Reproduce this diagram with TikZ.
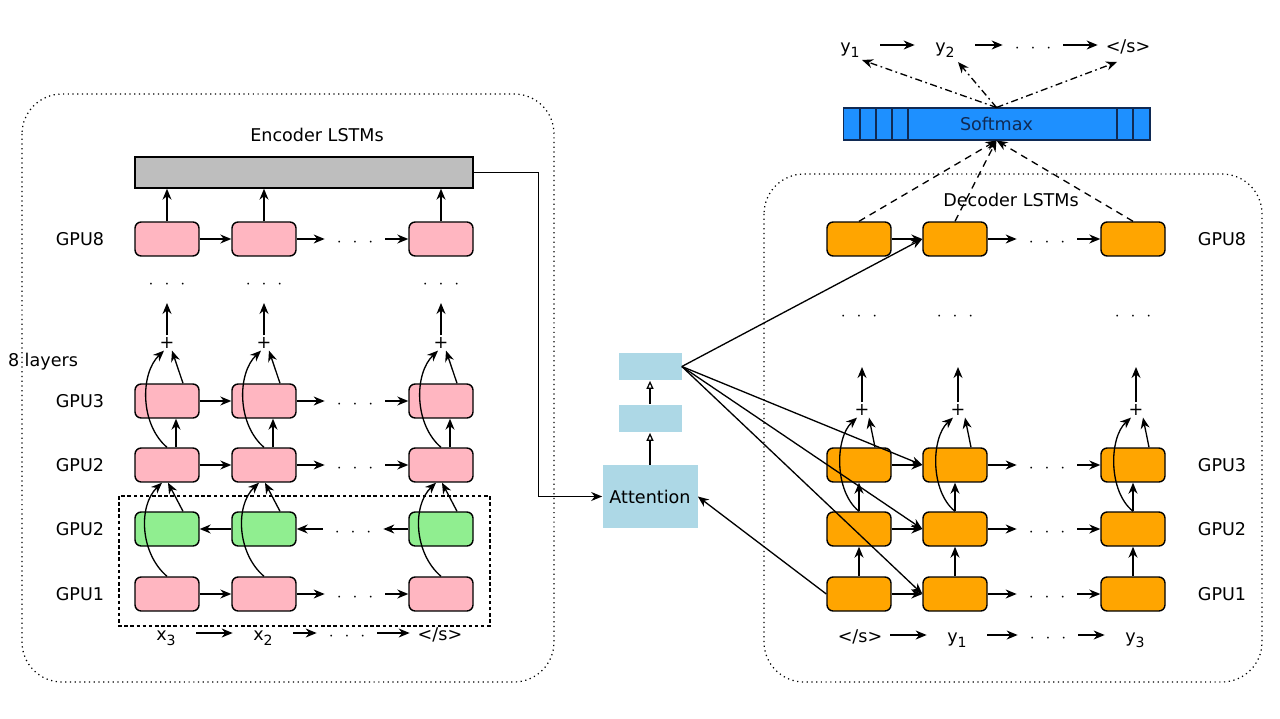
\documentclass[tikz,border=0pt]{standalone}
\usepackage{fontspec}
\setmainfont{DejaVu Sans}
\usetikzlibrary{arrows.meta, positioning, calc}

\definecolor{cellpink}{RGB}{255,182,193}
\definecolor{cellgreen}{RGB}{144,238,144}
\definecolor{cellorange}{RGB}{255,165,0}
\definecolor{attblue}{RGB}{173,216,230}
\definecolor{smblue}{RGB}{30,144,255}
\definecolor{smtext}{RGB}{16,42,84}
\definecolor{bargray}{RGB}{190,190,190}
\newcommand{\lsub}[1]{\raisebox{-0.6ex}{\footnotesize #1}}
\newcommand{\spdots}{$\cdot\hspace{4pt}\cdot\hspace{4pt}\cdot$}

\begin{document}
\begin{tikzpicture}[
    x=0.02cm, y=-0.02cm,
    cell/.style={rectangle, draw, line width=0.8pt, rounded corners=3.5pt, minimum width=1.28cm, minimum height=0.68cm, inner sep=0pt},
    enc/.style={cell, fill=cellpink},
    bwd/.style={cell, fill=cellgreen},
    dec/.style={cell, fill=cellorange},
    attbox/.style={rectangle, fill=attblue, inner sep=0pt},
    token/.style={minimum width=1.2cm, inner sep=0pt, text height=8pt, text depth=0pt},
    sumnode/.style={inner sep=1pt},
    link/.style={-{Stealth[length=2.2mm, width=1.8mm]}, line width=0.75pt},
    dashdot/.style={dash pattern=on 4pt off 2pt on 1pt off 2pt},
    boxframe/.style={dotted, line width=0.7pt, rounded corners=0.8cm}
]
\useasboundingbox (0,0) rectangle (1280,719);

% Frames
\draw[boxframe] (22,94) rectangle (554,682);
\draw[boxframe] (764,174) rectangle (1262,682);
\draw[dash pattern=on 2pt off 1.5pt, line width=0.6pt] (119,496) rectangle (490,626);

% Encoder nodes
\node (enctitle) at (317,135) {Encoder LSTMs};
\node[rectangle, draw, line width=0.8pt, fill=bargray, minimum width=6.76cm, minimum height=0.62cm] (bar) at (304,172.5) {};
\foreach \c/\x in {1/167, 2/264, 3/441} {
    \node[enc] (enc8-\c) at (\x,239) {};
    \node (ev-\c) at (\x,285) {\spdots};
    \coordinate (eu-\c) at (\x,303);
    \node[sumnode] (ep-\c) at (\x,343) {+};
    \node[enc] (enc3-\c) at (\x,401) {};
    \node[enc] (enc2-\c) at (\x,465) {};
    \node[bwd] (bi-\c) at (\x,529) {};
    \node[enc] (enc1-\c) at (\x,594) {};
}
\foreach \r/\y in {8/239, 3/401, 2/465, 1/594}
    \node[token] (ed\r) at (355,\y) {\spdots};
\node[token] (edb) at (353,529) {\spdots};

\node (eg8) at (80,239) {GPU8};
\node (eg3) at (80,401) {GPU3};
\node (eg2) at (80,465) {GPU2};
\node (egb) at (80,529) {GPU2};
\node (eg1) at (80,594) {GPU1};
\node (layers) at (43,362) {8 layers};

\node[token] (ex1) at (166,633) {x\lsub{3}};
\node[token] (ex2) at (263,633) {x\lsub{2}};
\node[token] (exd) at (347,633) {\spdots};
\node[token] (ex3) at (440,633) {</s>};

% Encoder edges
\foreach \r in {8, 3, 2, 1} {
    \draw[link] (enc\r-1) -- (enc\r-2);
    \draw[link] (enc\r-2) -- (ed\r);
    \draw[link] (ed\r) -- (enc\r-3);
}
\draw[link] (bi-2) -- (bi-1);
\draw[link] (edb) -- (bi-2);
\draw[link] (bi-3) -- (edb);
\foreach \c in {1, 2, 3} {
    \draw[link] (enc8-\c.north) -- (enc8-\c.north |- bar.south);
    \draw[link] (ep-\c) -- (eu-\c);
    \draw[link] ([xshift=0.32cm]enc3-\c.north) -- ([xshift=0.1cm]ep-\c.south);
    \draw[link] (enc2-\c.north) .. controls +(-27,-23) and +(-24,23) .. ([xshift=-0.06cm]ep-\c.south);
    \draw[link] ([xshift=0.18cm]enc2-\c.north) -- ([xshift=0.18cm]enc3-\c.south);
    \draw[link] ([xshift=0.32cm]bi-\c.north) -- ([xshift=0.02cm]enc2-\c.south);
    \draw[link] (enc1-\c.north) .. controls +(-27,-23) and +(-24,23) .. ([xshift=-0.1cm]enc2-\c.south);
}
\draw[link] (ex1) -- (ex2);
\draw[link] (ex2) -- (exd);
\draw[link] (exd) -- (ex3);

% Attention
\node[attbox, minimum width=1.9cm, minimum height=1.26cm] (att) at (650,496.5) {Attention};
\node[attbox, minimum width=1.26cm, minimum height=0.56cm] (at1) at (650,418.5) {};
\node[attbox, minimum width=1.26cm, minimum height=0.56cm] (at2) at (650,366.5) {};
\draw[-{Triangle[open, length=1.6mm, width=1.4mm]}, line width=0.7pt] (att) -- (at1);
\draw[-{Triangle[open, length=1.6mm, width=1.4mm]}, line width=0.7pt] (at1) -- (at2);
\draw[link] (bar.east) -- ++(65,0) |- (att.west);

% Decoder nodes
\node (dectitle) at (1011,200) {Decoder LSTMs};
\foreach \c/\x in {1/859, 2/955, 3/1133} {
    \node[dec] (dec8-\c) at (\x,239) {};
    \node (dv-\c) at (\x,317) {\spdots};
    \coordinate (du-\c) at (\x+3,367);
    \node[sumnode] (dp-\c) at (\x+3,410) {+};
    \node[dec] (dec3-\c) at (\x,465) {};
    \node[dec] (dec2-\c) at (\x,529) {};
    \node[dec] (dec1-\c) at (\x,594) {};
}
\foreach \r/\y in {8/239, 3/465, 2/529, 1/594}
    \node[token] (dd\r) at (1047,\y) {\spdots};

\node (dg8) at (1222,239) {GPU8};
\node (dg3) at (1222,465) {GPU3};
\node (dg2) at (1222,529) {GPU2};
\node (dg1) at (1222,594) {GPU1};

\node[token] (dt1) at (860,635) {</s>};
\node[token] (dt2) at (957,635) {y\lsub{1}};
\node[token] (dtd) at (1048,635) {\spdots};
\node[token] (dt3) at (1135,635) {y\lsub{3}};

% Softmax
\node[rectangle, draw=smtext, line width=0.6pt, fill=smblue, text=smtext, minimum width=6.14cm, minimum height=0.64cm] (sm) at (996.5,124) {Softmax};
\foreach \x in {860, 876, 892, 908, 1117, 1133}
    \draw[draw=smtext, line width=0.6pt] (\x,108) -- (\x,140);
\node[token] (ty1) at (850,45) {y\lsub{1}};
\node[token] (ty2) at (945,45) {y\lsub{2}};
\node[token] (tyd) at (1033,45) {\spdots};
\node[token] (ts) at (1128,45) {</s>};

% Decoder edges
\foreach \r in {8, 3, 2, 1} {
    \draw[link] (dec\r-1) -- (dec\r-2);
    \draw[link] (dec\r-2) -- (dd\r);
    \draw[link] (dd\r) -- (dec\r-3);
}
\foreach \c in {1, 2, 3} {
    \draw[link] (dec1-\c) -- (dec2-\c);
    \draw[link] (dec2-\c) -- (dec3-\c);
    \draw[link] (dp-\c) -- (du-\c);
    \draw[link] (dec2-\c.north) .. controls +(-25,-20) and +(-22,20) .. ([xshift=-0.1cm]dp-\c.south);
    \draw[link] ([xshift=0.32cm]dec3-\c.north) -- ([xshift=0.14cm]dp-\c.south);
    \draw[link, dashed, dash pattern=on 4pt off 3pt] (dec8-\c.north) -- (sm.south);
}
\draw[link] (dt1) -- (dt2);
\draw[link] (dt2) -- (dtd);
\draw[link] (dtd) -- (dt3);

\draw[link] (at2.east) -- (dec8-2.west);
\draw[link] (at2.east) -- (dec3-2.west);
\draw[link] (at2.east) -- (dec2-2.west);
\draw[link] (at2.east) -- (dec1-2.west);
\draw[link] (dec1-1.west) -- (att.east);

\draw[link, dashdot] (sm.north) -- ($(ty1)+(12,15)$);
\draw[link, dashdot] (sm.north) -- ($(ty2)+(13,17)$);
\draw[link, dashdot] (sm.north) -- ($(ts)+(-11,17)$);
\draw[link] (ty1) -- (ty2);
\draw[link] (ty2) -- (tyd);
\draw[link] (tyd) -- (ts);
\end{tikzpicture}
\end{document}
